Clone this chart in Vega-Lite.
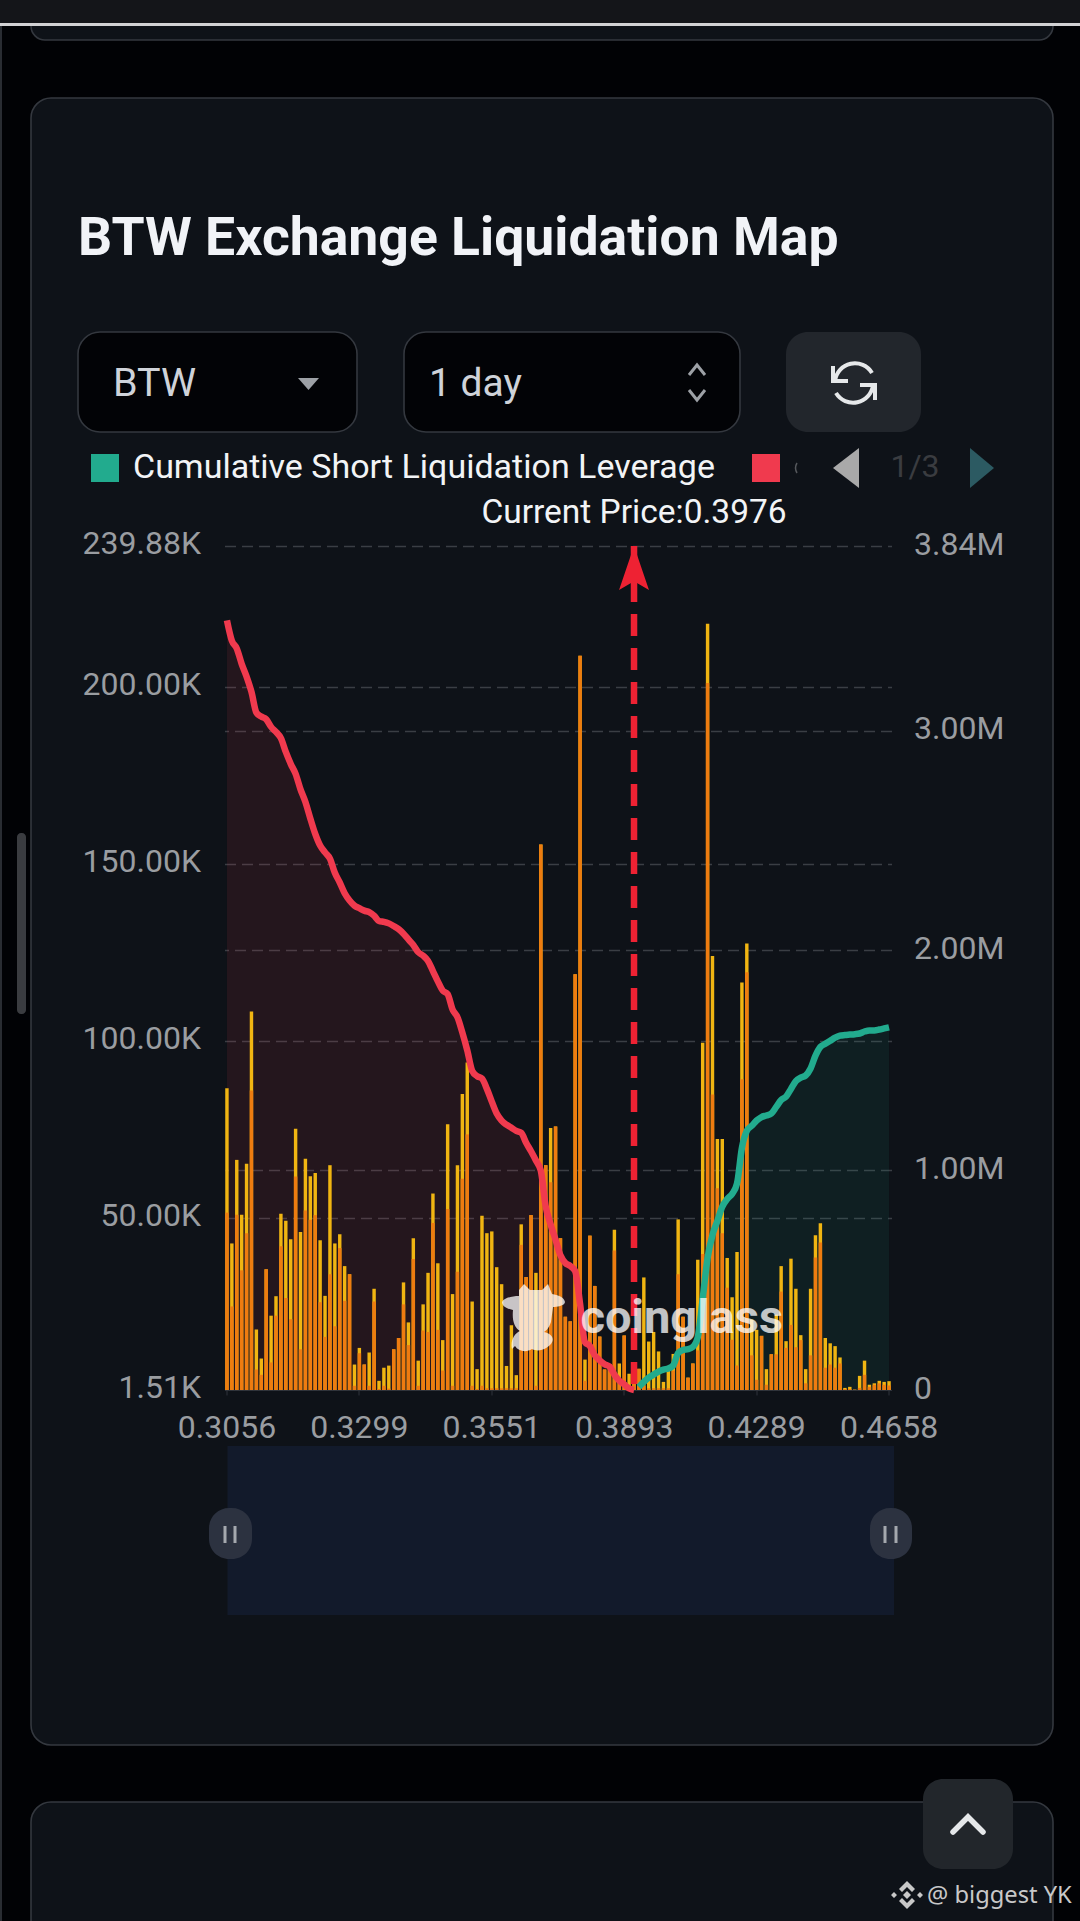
{
  "$schema": "https://vega.github.io/schema/vega-lite/v6.json",
  "width": 667,
  "height": 844,
  "autosize": {"type": "none"},
  "padding": {"left": 224.5, "top": 546, "right": 188.5, "bottom": 531},
  "background": "#0e1218",
  "title": {"text": "BTW Exchange Liquidation Map", "anchor": "start", "frame": "group", "dx": -146.5, "offset": -308, "baseline": "alphabetic", "font": "Roboto", "fontSize": 53.5, "fontWeight": 700, "color": "#f1f3f7"},
  "config": {"view": {"stroke": null}, "text": {"font": "Roboto"}, "axis": {"labelFont": "Roboto", "labelFontSize": 32, "labelColor": "#9a9da1"}},
  "datasets": {
    "ui": [{"part": "ui"}],
    "bins": [
      {"price":"0.3056","top":86700,"low":51600,"long":3502000},
      {"price":"0.3065","top":42900,"low":25100,"long":3409000},
      {"price":"0.3074","top":66500,"low":51000,"long":3374000},
      {"price":"0.3083","top":51000,"low":35300,"long":3304000},
      {"price":"0.3092","top":65400,"low":45800,"long":3246000},
      {"price":"0.3101","top":108400,"low":86100,"long":3176000},
      {"price":"0.3110","top":18600,"low":7300,"long":3082000},
      {"price":"0.3119","top":10400,"low":5800,"long":3064000},
      {"price":"0.3128","top":35600,"low":35600,"long":3052000},
      {"price":"0.3137","top":22500,"low":9300,"long":3017000},
      {"price":"0.3146","top":28000,"low":22500,"long":2994000},
      {"price":"0.3155","top":51300,"low":42100,"long":2966000},
      {"price":"0.3164","top":49300,"low":27500,"long":2903000},
      {"price":"0.3173","top":44100,"low":21500,"long":2849000},
      {"price":"0.3182","top":75300,"low":61800,"long":2803000},
      {"price":"0.3191","top":46100,"low":13000,"long":2733000},
      {"price":"0.3200","top":66800,"low":52200,"long":2675000},
      {"price":"0.3209","top":61900,"low":49600,"long":2600000},
      {"price":"0.3218","top":62800,"low":50900,"long":2530000},
      {"price":"0.3227","top":43800,"low":26300,"long":2477000},
      {"price":"0.3236","top":28100,"low":16500,"long":2446000},
      {"price":"0.3245","top":65000,"low":34200,"long":2418000},
      {"price":"0.3254","top":42900,"low":19500,"long":2353000},
      {"price":"0.3263","top":45500,"low":41600,"long":2309000},
      {"price":"0.3272","top":36500,"low":26700,"long":2260000},
      {"price":"0.3281","top":34200,"low":34200,"long":2227000},
      {"price":"0.3290","top":8700,"low":2700,"long":2204000},
      {"price":"0.3299","top":13400,"low":11900,"long":2192000},
      {"price":"0.3308","top":8700,"low":8700,"long":2181000},
      {"price":"0.3318","top":12100,"low":2700,"long":2174000},
      {"price":"0.3327","top":30100,"low":26500,"long":2158000},
      {"price":"0.3336","top":4100,"low":1800,"long":2134000},
      {"price":"0.3346","top":7800,"low":2700,"long":2130000},
      {"price":"0.3355","top":8400,"low":1900,"long":2123000},
      {"price":"0.3364","top":13000,"low":13000,"long":2111000},
      {"price":"0.3374","top":16200,"low":16200,"long":2097000},
      {"price":"0.3383","top":31900,"low":25700,"long":2076000},
      {"price":"0.3392","top":20600,"low":14200,"long":2050000},
      {"price":"0.3402","top":44400,"low":38500,"long":2025000},
      {"price":"0.3411","top":9800,"low":2700,"long":1992000},
      {"price":"0.3420","top":25700,"low":18300,"long":1976000},
      {"price":"0.3430","top":34600,"low":17900,"long":1952000},
      {"price":"0.3439","top":57000,"low":48700,"long":1906000},
      {"price":"0.3448","top":37300,"low":18500,"long":1859000},
      {"price":"0.3458","top":15600,"low":7000,"long":1817000},
      {"price":"0.3467","top":76600,"low":52600,"long":1801000},
      {"price":"0.3476","top":28600,"low":2700,"long":1731000},
      {"price":"0.3486","top":65000,"low":34900,"long":1696000},
      {"price":"0.3495","top":85100,"low":61200,"long":1626000},
      {"price":"0.3504","top":94000,"low":73700,"long":1545000},
      {"price":"0.3514","top":26500,"low":2700,"long":1452000},
      {"price":"0.3523","top":7400,"low":1800,"long":1428000},
      {"price":"0.3532","top":50700,"low":2700,"long":1417000},
      {"price":"0.3542","top":45800,"low":2000,"long":1370000},
      {"price":"0.3551","top":46300,"low":2000,"long":1312000},
      {"price":"0.3564","top":36200,"low":2000,"long":1258000},
      {"price":"0.3576","top":31400,"low":2000,"long":1226000},
      {"price":"0.3589","top":8300,"low":2000,"long":1207000},
      {"price":"0.3602","top":19800,"low":2000,"long":1193000},
      {"price":"0.3614","top":5700,"low":2000,"long":1179000},
      {"price":"0.3627","top":48300,"low":42500,"long":1170000},
      {"price":"0.3640","top":33400,"low":33400,"long":1125000},
      {"price":"0.3652","top":50900,"low":50900,"long":1086000},
      {"price":"0.3665","top":34600,"low":2700,"long":1044000},
      {"price":"0.3678","top":155600,"low":155600,"long":997000},
      {"price":"0.3690","top":65000,"low":65000,"long":834000},
      {"price":"0.3703","top":75500,"low":60200,"long":753000},
      {"price":"0.3716","top":75900,"low":75900,"long":683000},
      {"price":"0.3728","top":44400,"low":44400,"long":613000},
      {"price":"0.3741","top":22200,"low":22200,"long":578000},
      {"price":"0.3754","top":20900,"low":20900,"long":564000},
      {"price":"0.3766","top":118900,"low":118900,"long":541000},
      {"price":"0.3779","top":208900,"low":208900,"long":391000},
      {"price":"0.3792","top":10100,"low":4100,"long":217000},
      {"price":"0.3804","top":45100,"low":45100,"long":200000},
      {"price":"0.3817","top":30900,"low":30900,"long":158000},
      {"price":"0.3830","top":16600,"low":16600,"long":135000},
      {"price":"0.3842","top":7300,"low":7300,"long":117000},
      {"price":"0.3855","top":8700,"low":8700,"long":107000},
      {"price":"0.3868","top":46800,"low":40900,"long":70000},
      {"price":"0.3880","top":9000,"low":4100,"long":42000},
      {"price":"0.3893","top":16900,"low":16900,"long":26000},
      {"price":"0.3934","top":6100,"low":2700,"long":7000},
      {"price":"0.3976","top":7700,"low":7700,"long":0},
      {"price":"0.3989","top":7500,"low":7500,"short":14000},
      {"price":"0.4001","top":33300,"low":2700,"short":37000},
      {"price":"0.4014","top":15200,"low":2000,"short":56000},
      {"price":"0.4026","top":17900,"low":2000,"short":70000},
      {"price":"0.4039","top":12400,"low":2000,"short":84000},
      {"price":"0.4051","top":3800,"low":2000,"short":93000},
      {"price":"0.4064","top":7000,"low":2000,"short":98000},
      {"price":"0.4076","top":11700,"low":7000,"short":112000},
      {"price":"0.4089","top":49700,"low":34200,"short":168000},
      {"price":"0.4101","top":22200,"low":22200,"short":182000},
      {"price":"0.4114","top":5000,"low":5000,"short":186000},
      {"price":"0.4126","top":9000,"low":9000,"short":196000},
      {"price":"0.4139","top":38300,"low":12700,"short":240000},
      {"price":"0.4151","top":99600,"low":39900,"short":415000},
      {"price":"0.4164","top":217900,"low":201200,"short":601000},
      {"price":"0.4176","top":124100,"low":85000,"short":706000},
      {"price":"0.4189","top":72400,"low":58500,"short":769000},
      {"price":"0.4201","top":72400,"low":45800,"short":834000},
      {"price":"0.4214","top":38800,"low":30400,"short":869000},
      {"price":"0.4226","top":27700,"low":15700,"short":892000},
      {"price":"0.4239","top":40500,"low":8400,"short":939000},
      {"price":"0.4251","top":116600,"low":89300,"short":1102000},
      {"price":"0.4264","top":127600,"low":119500,"short":1179000},
      {"price":"0.4276","top":21400,"low":11300,"short":1202000},
      {"price":"0.4289","top":18500,"low":4400,"short":1226000},
      {"price":"0.4303","top":16800,"low":16800,"short":1242000},
      {"price":"0.4316","top":7400,"low":3000,"short":1249000},
      {"price":"0.4330","top":11600,"low":11600,"short":1258000},
      {"price":"0.4344","top":22800,"low":11600,"short":1288000},
      {"price":"0.4357","top":36500,"low":29300,"short":1319000},
      {"price":"0.4371","top":15300,"low":13400,"short":1335000},
      {"price":"0.4385","top":38600,"low":19900,"short":1370000},
      {"price":"0.4398","top":30100,"low":13600,"short":1405000},
      {"price":"0.4412","top":17000,"low":15600,"short":1421000},
      {"price":"0.4426","top":7400,"low":3400,"short":1431000},
      {"price":"0.4439","top":30100,"low":11300,"short":1463000},
      {"price":"0.4453","top":45200,"low":38900,"short":1521000},
      {"price":"0.4467","top":48600,"low":43200,"short":1561000},
      {"price":"0.4480","top":16200,"low":7800,"short":1575000},
      {"price":"0.4494","top":14700,"low":8700,"short":1589000},
      {"price":"0.4508","top":13900,"low":7800,"short":1603000},
      {"price":"0.4521","top":10700,"low":9000,"short":1612000},
      {"price":"0.4535","top":2100,"low":1800,"short":1615000},
      {"price":"0.4549","top":2400,"low":1800,"short":1617000},
      {"price":"0.4562","top":1600,"low":1600,"short":1619000},
      {"price":"0.4576","top":5500,"low":2100,"short":1622000},
      {"price":"0.4590","top":9800,"low":5800,"short":1631000},
      {"price":"0.4603","top":3000,"low":2400,"short":1636000},
      {"price":"0.4617","top":3400,"low":3000,"short":1636000},
      {"price":"0.4631","top":4100,"low":3400,"short":1640000},
      {"price":"0.4644","top":3800,"low":3000,"short":1645000},
      {"price":"0.4658","top":4000,"low":2800,"short":1650000}
    ]
  },
  "data": {"name": "bins"},
  "resolve": {"scale": {"y": "independent"}, "axis": {"y": "independent"}},
  "layer": [
    {"data": {"name": "ui"}, "mark": {"type": "point", "x": -224.5, "y": -546, "size": 4, "filled": true, "opacity": 1, "strokeWidth": 0, "fill": "#010205", "shape": "M0,26H1080V1921H0Z M31,118V1725A20,20 0 0 0 51,1745H1033A20,20 0 0 0 1053,1725V118A20,20 0 0 0 1033,98H51A20,20 0 0 0 31,118Z M31,26A14,14 0 0 0 45,40H1039A14,14 0 0 0 1053,26Z M31,1822V1921H1053V1822A20,20 0 0 0 1033,1802H51A20,20 0 0 0 31,1822Z"}},
    {"data": {"name": "ui"}, "mark": {"type": "point", "x": -224.5, "y": -546, "size": 4, "filled": false, "opacity": 1, "strokeWidth": 1.6, "stroke": "#34383f", "shape": "M31,118V1725A20,20 0 0 0 51,1745H1033A20,20 0 0 0 1053,1725V118A20,20 0 0 0 1033,98H51A20,20 0 0 0 31,118Z M31,26A14,14 0 0 0 45,40H1039A14,14 0 0 0 1053,26 M31,1921V1822A20,20 0 0 1 51,1802H1033A20,20 0 0 1 1053,1822V1921 M1,26V1921"}},
    {"data": {"name": "ui"}, "mark": {"type": "rect", "x": -224.5, "x2": 855.5, "y": -546, "y2": -523, "fill": "#141519"}},
    {"data": {"name": "ui"}, "mark": {"type": "rect", "x": -224.5, "x2": 855.5, "y": -523, "y2": -520, "fill": "#d2d2d4"}},
    {"data": {"name": "ui"}, "mark": {"type": "rect", "x": -207.5, "x2": -198.5, "y": 287, "y2": 468, "fill": "#3a3c40", "cornerRadius": 4}},
    {"data": {"name": "ui"}, "mark": {"type": "rect", "x": -146.5, "x2": 132.5, "y": -214, "y2": -114, "fill": "#020306", "stroke": "#34383f", "strokeWidth": 1.6, "cornerRadius": 22}},
    {"data": {"name": "ui"}, "mark": {"type": "rect", "x": 179.5, "x2": 515.5, "y": -214, "y2": -114, "fill": "#020306", "stroke": "#34383f", "strokeWidth": 1.6, "cornerRadius": 22}},
    {"data": {"name": "ui"}, "mark": {"type": "rect", "x": 561.5, "x2": 696.5, "y": -214, "y2": -114, "fill": "#22262c", "cornerRadius": 22}},
    {"data": {"values": [{"label": "BTW"}]}, "mark": {"type": "text", "x": -111.5, "y": -150, "align": "left", "baseline": "alphabetic", "fontSize": 39.5, "fill": "#cfd3d9"}, "encoding": {"text": {"field": "label"}}},
    {"data": {"values": [{"label": "1 day"}]}, "mark": {"type": "text", "x": 204.5, "y": -150, "align": "left", "baseline": "alphabetic", "fontSize": 39, "fill": "#cfd3d9"}, "encoding": {"text": {"field": "label"}}},
    {"data": {"name": "ui"}, "mark": {"type": "point", "x": -224.5, "y": -546, "size": 4, "filled": true, "opacity": 1, "strokeWidth": 0, "fill": "#9da1a6", "shape": "M298,378H319L308.5,390Z"}},
    {"data": {"name": "ui"}, "mark": {"type": "point", "x": -224.5, "y": -546, "size": 4, "filled": false, "opacity": 1, "strokeWidth": 3, "stroke": "#9da1a6", "shape": "M689,375L697,365L705,375 M689,390L697,400L705,390"}},
    {"data": {"name": "ui"}, "mark": {"type": "point", "x": -224.5, "y": -546, "size": 4, "filled": false, "opacity": 1, "strokeWidth": 4, "stroke": "#e6e8ea", "shape": "M833,366V381H848 M835,381A20,20 0 0 1 872,373 M875,400V385H860 M873,385A20,20 0 0 1 836,393"}},
    {"data": {"name": "ui"}, "mark": {"type": "rect", "x": -133.5, "x2": -105.5, "y": -92, "y2": -64, "fill": "#22ab8e"}},
    {"data": {"values": [{"label": "Cumulative Short Liquidation Leverage"}]}, "mark": {"type": "text", "x": -91.5, "y": -68, "align": "left", "baseline": "alphabetic", "fontSize": 34, "fill": "#f2f4f6"}, "encoding": {"text": {"field": "label"}}},
    {"data": {"name": "ui"}, "mark": {"type": "rect", "x": 527.5, "x2": 555.5, "y": -92, "y2": -64, "fill": "#f03a4e"}},
    {"data": {"name": "ui"}, "mark": {"type": "point", "x": -224.5, "y": -546, "size": 4, "filled": false, "opacity": 1, "strokeWidth": 1.5, "stroke": "#55585c", "shape": "M797,463Q794,468 797,473"}},
    {"data": {"name": "ui"}, "mark": {"type": "point", "x": -224.5, "y": -546, "size": 4, "filled": true, "opacity": 1, "strokeWidth": 0, "fill": "#a9a9a9", "shape": "M859,448V488L833,468Z"}},
    {"data": {"values": [{"label": "1/3"}]}, "mark": {"type": "text", "x": 690.5, "y": -69, "align": "center", "baseline": "alphabetic", "fontSize": 32, "fill": "#3a3c40"}, "encoding": {"text": {"field": "label"}}},
    {"data": {"name": "ui"}, "mark": {"type": "point", "x": -224.5, "y": -546, "size": 4, "filled": true, "opacity": 1, "strokeWidth": 0, "fill": "#2c5a62", "shape": "M970,448L994,468L970,488Z"}},
    {"data": {"name": "ui"}, "mark": {"type": "rect", "x": 3, "x2": 669.5, "y": 900, "y2": 1069, "fill": "#121a2b"}},
    {"data": {"name": "ui"}, "mark": {"type": "rect", "x": -15.5, "x2": 27.5, "y": 962, "y2": 1013, "fill": "#2c3240", "cornerRadius": 20}},
    {"data": {"name": "ui"}, "mark": {"type": "rect", "x": 645.5, "x2": 687.5, "y": 962, "y2": 1013, "fill": "#2c3240", "cornerRadius": 20}},
    {"data": {"name": "ui"}, "mark": {"type": "point", "x": -224.5, "y": -546, "size": 4, "filled": false, "opacity": 1, "strokeWidth": 3, "stroke": "#a4a8ae", "shape": "M225,1526V1543 M235,1526V1543 M885,1526V1543 M896,1526V1543"}},
    {"data": {"name": "ui"}, "mark": {"type": "rect", "x": 698.5, "x2": 788.5, "y": 1233, "y2": 1323, "fill": "#22262b", "cornerRadius": 20}},
    {"data": {"name": "ui"}, "mark": {"type": "point", "x": -224.5, "y": -546, "size": 4, "filled": false, "opacity": 1, "strokeWidth": 5.5, "stroke": "#e6e8ea", "strokeCap": "round", "shape": "M953,1832L968,1817L983,1832"}},
    {"data": {"name": "ui"}, "mark": {"type": "point", "x": -224.5, "y": -546, "size": 4, "filled": true, "opacity": 1, "strokeWidth": 0, "fill": "#c8c8c8", "shape": "M907,1891L911,1895L907,1899L903,1895Z M894,1892L897,1895L894,1898L891,1895Z M920,1892L923,1895L920,1898L917,1895Z M907,1881L915,1889L912,1892L907,1887L902,1892L899,1889Z M907,1909L915,1901L912,1898L907,1903L902,1898L899,1901Z"}},
    {"data": {"values": [{"label": "@ biggest YK"}]}, "mark": {"type": "text", "x": 702.5, "y": 1357, "align": "left", "baseline": "alphabetic", "font": "Noto Sans", "fontSize": 23.7, "fill": "#c8c8c8"}, "encoding": {"text": {"field": "label"}}},
    {
      "mark": {"type": "area", "color": "#f03a4e", "opacity": 0.1},
      "encoding": {
        "x": {"field": "price", "type": "ordinal", "title": null, "scale": {"type": "band", "paddingInner": 0, "paddingOuter": 0},
          "axis": {"values": ["0.3056", "0.3299", "0.3551", "0.3893", "0.4289", "0.4658"], "labelAngle": 0, "labelOverlap": false, "labelBound": false, "labelFlush": false, "labelPadding": 17, "tickSize": 5, "tickColor": "#2f333a", "domainColor": "#2f333a", "grid": false}},
        "y": {"field": "long", "type": "quantitative", "title": null, "scale": {"domain": [0, 3840000], "nice": false},
          "axis": {"orient": "right", "values": [0, 1000000, 2000000, 3000000, 3840000], "labelExpr": "datum.value == 0 ? '0' : format(datum.value / 1000000, '.2f') + 'M'", "domain": false, "ticks": false, "labelPadding": 22, "labelOffset": -2, "grid": true, "gridColor": "#3a3e44", "gridDash": [11, 6], "gridWidth": 1.5, "gridOpacity": {"condition": {"test": "datum.value == 3840000 || datum.value == 0", "value": 0}, "value": 1}}}
      }
    },
    {
      "mark": {"type": "area", "color": "#22ab8e", "opacity": 0.09},
      "encoding": {
        "x": {"field": "price", "type": "ordinal", "title": null},
        "y": {"field": "short", "type": "quantitative", "title": null, "axis": null, "scale": {"domain": [0, 3840000], "nice": false}}
      }
    },
    {
      "mark": {"type": "bar", "color": "#f0b512", "width": {"band": 0.7}},
      "encoding": {
        "x": {"field": "price", "type": "ordinal", "title": null},
        "y": {"field": "top", "type": "quantitative", "title": null, "scale": {"domain": [1510, 239880], "nice": false, "zero": false},
          "axis": {"orient": "left", "values": [1510, 50000, 100000, 150000, 200000, 239880], "labelExpr": "format(datum.value / 1000, '.2f') + 'K'", "domain": false, "ticks": false, "labelPadding": 24, "labelOffset": -3, "grid": true, "gridColor": "#3a3e44", "gridDash": [11, 6], "gridWidth": 1.5, "gridOpacity": {"condition": {"test": "datum.value == 1510", "value": 0}, "value": 1}}},
        "y2": {"datum": 1510}
      }
    },
    {
      "mark": {"type": "bar", "color": "#ee7c10", "width": {"band": 0.7}},
      "encoding": {
        "x": {"field": "price", "type": "ordinal", "title": null},
        "y": {"field": "low", "type": "quantitative", "title": null, "axis": null, "scale": {"domain": [1510, 239880], "nice": false, "zero": false}},
        "y2": {"datum": 1510}
      }
    },
    {
      "data": {"values": [{"price": "0.3976"}]},
      "mark": {"type": "rule", "color": "#ee2233", "strokeWidth": 6.5, "strokeDash": [22, 12]},
      "encoding": {"x": {"field": "price", "type": "ordinal", "title": null}}
    },
    {
      "mark": {"type": "line", "color": "#f03a4e", "strokeWidth": 6.5, "interpolate": "monotone"},
      "encoding": {
        "x": {"field": "price", "type": "ordinal", "title": null},
        "y": {"field": "long", "type": "quantitative", "title": null, "axis": null, "scale": {"domain": [0, 3840000], "nice": false}}
      }
    },
    {
      "mark": {"type": "line", "color": "#22ab8e", "strokeWidth": 6.5, "interpolate": "monotone"},
      "encoding": {
        "x": {"field": "price", "type": "ordinal", "title": null},
        "y": {"field": "short", "type": "quantitative", "title": null, "axis": null, "scale": {"domain": [0, 3840000], "nice": false}}
      }
    },
    {"data": {"name": "ui"}, "mark": {"type": "point", "x": -224.5, "y": -546, "size": 4, "filled": true, "opacity": 0.75, "strokeWidth": 0, "fill": "#ffffff", "shape": "M519,1290L524,1284L530,1290H542L548,1284L552,1294C558,1295 564,1297 565,1302C565,1306 556,1307 553,1307L551,1322C549,1328 546,1331 544,1332C553,1334 555,1340 550,1345C545,1350 538,1352 532,1349C526,1353 518,1351 515,1346L512,1349C510,1340 515,1333 520,1331C514,1327 512,1320 513,1310C507,1309 502,1306 502,1302C504,1298 512,1296 519,1296Z"}},
    {"data": {"values": [{"label": "coinglass"}]}, "mark": {"type": "text", "x": 356, "y": 787, "align": "left", "baseline": "alphabetic", "fontSize": 47, "fontWeight": 700, "fill": "#ffffff", "opacity": 0.75}, "encoding": {"text": {"field": "label"}}},
    {
      "data": {"values": [{"price": "0.3976", "level": 239880}]},
      "mark": {"type": "point", "filled": true, "opacity": 1, "size": 1936, "strokeWidth": 0, "fill": "#ee2233", "shape": "M0,0L0.68,2L0,1.6L-0.68,2Z"},
      "encoding": {
        "x": {"field": "price", "type": "ordinal", "title": null},
        "y": {"field": "level", "type": "quantitative", "title": null, "axis": null, "scale": {"domain": [1510, 239880], "nice": false, "zero": false}}
      }
    },
    {
      "data": {"values": [{"price": "0.3976", "level": 239880, "label": "Current Price:0.3976"}]},
      "mark": {"type": "text", "dy": -23, "baseline": "alphabetic", "align": "center", "fontSize": 33.5, "fill": "#f2f4f6"},
      "encoding": {
        "x": {"field": "price", "type": "ordinal", "title": null},
        "y": {"field": "level", "type": "quantitative", "title": null, "axis": null, "scale": {"domain": [1510, 239880], "nice": false, "zero": false}},
        "text": {"field": "label"}
      }
    }
  ]
}
